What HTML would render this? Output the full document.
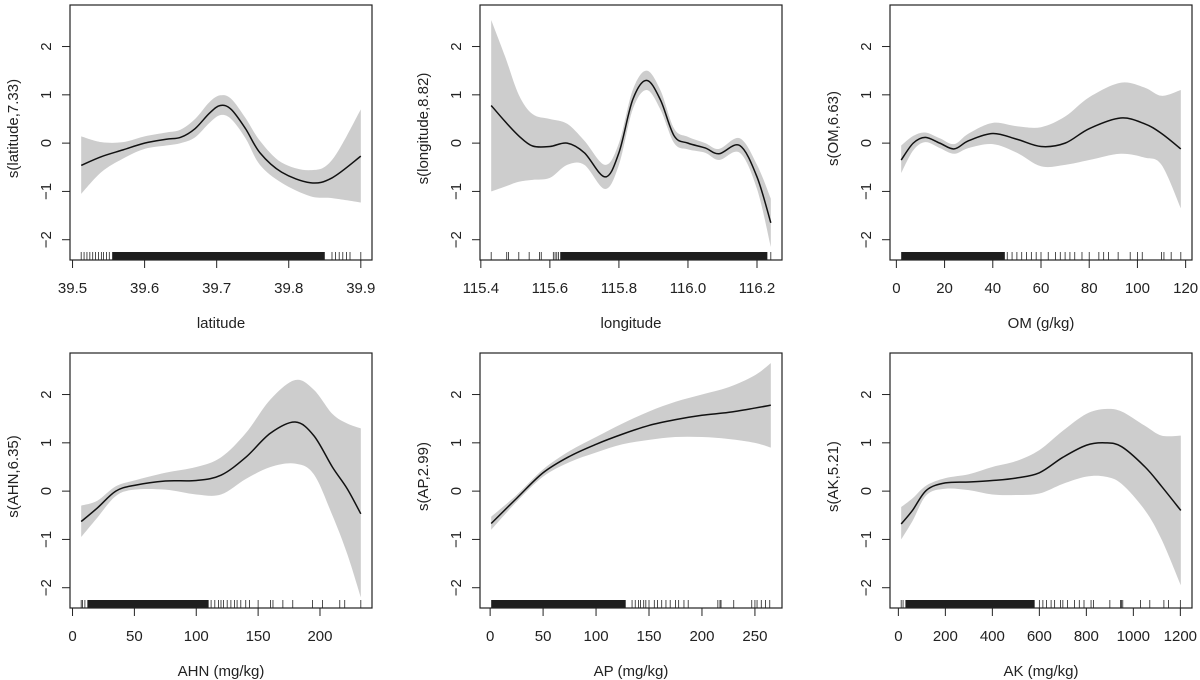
<!DOCTYPE html>
<html><head><meta charset="utf-8"><style>
html,body{margin:0;padding:0;background:#fff;width:1200px;height:680px;overflow:hidden}
svg text{font-family:"Liberation Sans",Arial,sans-serif;fill:#222}
</style></head><body>
<svg id="fig" width="1200" height="680" viewBox="0 0 1200 680" xmlns="http://www.w3.org/2000/svg"></svg>
<script>
// ---- data (top level) ----
const latX=[39.512,39.54,39.57,39.6,39.63,39.65,39.67,39.69,39.705,39.72,39.74,39.76,39.79,39.83,39.86,39.9];
const latFit=[-0.46,-0.28,-0.14,0.0,0.08,0.12,0.3,0.62,0.78,0.7,0.3,-0.2,-0.6,-0.82,-0.72,-0.27];
const latUp=[0.14,0.02,0.02,0.14,0.22,0.28,0.5,0.85,0.99,0.92,0.52,0.05,-0.4,-0.56,-0.35,0.70];
const latLo=[-1.05,-0.6,-0.32,-0.12,-0.05,0.0,0.12,0.42,0.58,0.5,0.1,-0.45,-0.82,-1.10,-1.14,-1.23];
const latTicks=[39.5,39.6,39.7,39.8,39.9];
const latTickLabels=["39.5","39.6","39.7","39.8","39.9"];
const latDense=[[39.555,39.85]];
const latRug=[39.512,39.516,39.52,39.524,39.528,39.532,39.536,39.54,39.543,39.547,39.551,39.86,39.865,39.87,39.875,39.88,39.885,39.9];

const lonX=[115.43,115.47,115.51,115.55,115.6,115.65,115.7,115.76,115.8,115.84,115.88,115.92,115.96,116.0,116.05,116.09,116.15,116.2,116.24];
const lonFit=[0.78,0.45,0.15,-0.06,-0.07,0.0,-0.2,-0.7,-0.2,0.9,1.3,0.9,0.15,0.0,-0.1,-0.22,-0.05,-0.7,-1.65];
const lonUp=[2.55,1.8,1.0,0.6,0.5,0.4,0.05,-0.45,0.0,1.1,1.5,1.1,0.3,0.13,0.0,-0.12,0.1,-0.45,-1.15];
const lonLo=[-1.0,-0.9,-0.8,-0.76,-0.72,-0.45,-0.45,-0.95,-0.45,0.7,1.1,0.7,0.0,-0.13,-0.2,-0.35,-0.2,-0.95,-2.15];
const lonTicks=[115.4,115.6,115.8,116.0,116.2];
const lonTickLabels=["115.4","115.6","115.8","116.0","116.2"];
const lonDense=[[115.63,116.23]];
const lonRug=[115.43,115.475,115.48,115.51,115.54,115.57,115.575,115.61,115.615,115.62,115.625,116.24];

const omX=[2,7,12,18,24,30,40,50,60,70,80,93,103,110,118];
const omFit=[-0.35,0.0,0.12,0.0,-0.12,0.05,0.2,0.08,-0.07,0.0,0.3,0.52,0.4,0.2,-0.12];
const omUp=[-0.05,0.15,0.22,0.1,-0.02,0.2,0.42,0.35,0.33,0.55,0.95,1.25,1.15,0.98,1.1];
const omLo=[-0.62,-0.15,0.02,-0.1,-0.22,-0.1,-0.02,-0.2,-0.48,-0.45,-0.35,-0.22,-0.3,-0.45,-1.35];
const omTicks=[0,20,40,60,80,100,120];
const omTickLabels=["0","20","40","60","80","100","120"];
const omDense=[[2,45]];
const omRug=[46,48,50,52,54,56,58,60,63,66,68,70,72,74,77,80,84,86,88,92,97,100,102,110,111,114,118];

const ahnX=[7,20,35,50,75,100,120,140,160,180,195,210,222,233];
const ahnFit=[-0.63,-0.35,0.0,0.12,0.21,0.22,0.33,0.7,1.2,1.43,1.15,0.5,0.05,-0.47];
const ahnUp=[-0.3,-0.2,0.1,0.22,0.38,0.5,0.7,1.2,1.9,2.3,2.1,1.6,1.4,1.3];
const ahnLo=[-0.95,-0.55,-0.1,0.03,0.03,-0.07,-0.07,0.25,0.5,0.57,0.35,-0.5,-1.3,-2.2];
const ahnTicks=[0,50,100,150,200];
const ahnTickLabels=["0","50","100","150","200"];
const ahnDense=[[12,110]];
const ahnRug=[7,8,10,112,115,118,120,122,125,128,131,133,136,140,143,150,160,162,170,178,194,202,216,220,233];

const apX=[1,25,50,75,100,125,150,175,200,225,250,265];
const apFit=[-0.67,-0.15,0.38,0.72,0.97,1.18,1.36,1.48,1.57,1.63,1.72,1.78];
const apUp=[-0.53,-0.08,0.45,0.83,1.12,1.4,1.65,1.85,2.0,2.15,2.4,2.65];
const apLo=[-0.8,-0.22,0.3,0.6,0.8,0.97,1.06,1.12,1.12,1.08,1.0,0.9];
const apTicks=[0,50,100,150,200,250];
const apTickLabels=["0","50","100","150","200","250"];
const apDense=[[1,128]];
const apRug=[134,137,140,142,145,147,150,155,158,162,166,170,175,178,183,187,215,217,218,230,247,250,252,256,260,264];

const akX=[12,60,120,200,300,400,500,600,700,800,880,950,1050,1120,1202];
const akFit=[-0.68,-0.4,0.02,0.17,0.19,0.22,0.27,0.38,0.7,0.95,1.0,0.92,0.5,0.1,-0.4];
const akUp=[-0.33,-0.15,0.12,0.27,0.35,0.5,0.62,0.85,1.25,1.6,1.7,1.65,1.35,1.15,1.15];
const akLo=[-1.0,-0.62,-0.08,0.05,0.02,-0.07,-0.08,-0.05,0.15,0.3,0.3,0.15,-0.4,-1.0,-1.95];
const akTicks=[0,200,400,600,800,1000,1200];
const akTickLabels=["0","200","400","600","800","1000","1200"];
const akDense=[[30,580]];
const akRug=[12,20,600,615,630,650,665,690,700,720,750,770,790,820,830,900,945,950,955,1030,1070,1130,1150,1200];

const yTicks=[-2,-1,0,1,2];
const yTickLabels=["\u22122","\u22121","0","1","2"];

const panels=[
 {key:"latitude",x:latX,fit:latFit,up:latUp,lo:latLo,ticks:latTicks,tl:latTickLabels,dense:latDense,rug:latRug,xl:"latitude",yl:"s(latitude,7.33)",L:70,T:5},
 {key:"longitude",x:lonX,fit:lonFit,up:lonUp,lo:lonLo,ticks:lonTicks,tl:lonTickLabels,dense:lonDense,rug:lonRug,xl:"longitude",yl:"s(longitude,8.82)",L:480,T:5},
 {key:"om",x:omX,fit:omFit,up:omUp,lo:omLo,ticks:omTicks,tl:omTickLabels,dense:omDense,rug:omRug,xl:"OM (g/kg)",yl:"s(OM,6.63)",L:890,T:5},
 {key:"ahn",x:ahnX,fit:ahnFit,up:ahnUp,lo:ahnLo,ticks:ahnTicks,tl:ahnTickLabels,dense:ahnDense,rug:ahnRug,xl:"AHN (mg/kg)",yl:"s(AHN,6.35)",L:70,T:353},
 {key:"ap",x:apX,fit:apFit,up:apUp,lo:apLo,ticks:apTicks,tl:apTickLabels,dense:apDense,rug:apRug,xl:"AP (mg/kg)",yl:"s(AP,2.99)",L:480,T:353},
 {key:"ak",x:akX,fit:akFit,up:akUp,lo:akLo,ticks:akTicks,tl:akTickLabels,dense:akDense,rug:akRug,xl:"AK (mg/kg)",yl:"s(AK,5.21)",L:890,T:353}
];

const NS="http://www.w3.org/2000/svg";
const svg=document.getElementById('fig');
function mk(tag,attrs,parent){const e=document.createElementNS(NS,tag);for(const k in attrs)e.setAttribute(k,attrs[k]);(parent||svg).appendChild(e);return e;}
function smooth(pts){
  let d="M"+pts[0][0].toFixed(2)+","+pts[0][1].toFixed(2);
  for(let i=0;i<pts.length-1;i++){
    const p0=pts[i-1]||pts[i],p1=pts[i],p2=pts[i+1],p3=pts[i+2]||pts[i+1];
    const c1=[p1[0]+(p2[0]-p0[0])/6,p1[1]+(p2[1]-p0[1])/6];
    const c2=[p2[0]-(p3[0]-p1[0])/6,p2[1]-(p3[1]-p1[1])/6];
    d+=" C"+c1[0].toFixed(2)+","+c1[1].toFixed(2)+" "+c2[0].toFixed(2)+","+c2[1].toFixed(2)+" "+p2[0].toFixed(2)+","+p2[1].toFixed(2);
  }
  return d;
}
const W=302,H=255,YMIN=-2.42,YMAX=2.86;
panels.forEach(p=>{
  const g=mk('g',{});
  
  
  const xmin=p.x[0],xmax=p.x[p.x.length-1],pad=(xmax-xmin)*0.04;
  const d0=xmin-pad,d1=xmax+pad;
  const sx=v=>p.L+(v-d0)/(d1-d0)*W;
  const sy=v=>p.T+(YMAX-v)/(YMAX-YMIN)*H;
  const B=p.T+H;
  const upPts=p.x.map((v,i)=>[sx(v),sy(p.up[i])]);
  const loPts=p.x.map((v,i)=>[sx(v),sy(p.lo[i])]).reverse();
  const bandD=smooth(upPts)+" L"+smooth(loPts).slice(1)+" Z";
  const band=mk('path',{d:bandD,fill:'#cdcdcd',stroke:'none'},g);
  
  
  const line=mk('path',{d:smooth(p.x.map((v,i)=>[sx(v),sy(p.fit[i])])),fill:'none',stroke:'#111','stroke-width':1.5},g);
  
  
  p.dense.forEach(r=>{
    const rr=mk('rect',{x:sx(r[0]),y:B-8,width:sx(r[1])-sx(r[0]),height:8,fill:'#1e1e1e'},g);
    
    
  });
  p.rug.forEach(v=>{
    const t=mk('line',{x1:sx(v),x2:sx(v),y1:B-8,y2:B,stroke:'#222','stroke-width':0.8},g);
    
    
  });
  const box=mk('rect',{x:p.L,y:p.T,width:W,height:H,fill:'none',stroke:'#222','stroke-width':1.2},g);
  
  
  p.ticks.forEach((v,i)=>{
    mk('line',{x1:sx(v),x2:sx(v),y1:B,y2:B+8,stroke:'#222','stroke-width':1},g);
    const t=mk('text',{x:sx(v),y:B+33,'text-anchor':'middle','font-size':15},g);
    t.textContent=p.tl[i];
    
    
  });
  const xl=mk('text',{x:p.L+W/2,y:B+68,'text-anchor':'middle','font-size':15},g);
  xl.textContent=p.xl;
  
  
  yTicks.forEach((v,i)=>{
    mk('line',{x1:p.L-8,x2:p.L,y1:sy(v),y2:sy(v),stroke:'#222','stroke-width':1},g);
    const t=mk('text',{x:p.L-19,y:sy(v),'text-anchor':'middle','font-size':15,transform:'rotate(-90 '+(p.L-19)+' '+sy(v)+')'},g);
    t.textContent=yTickLabels[i];
    
    
  });
  const cy=p.T+H/2-4, cx=p.L-52;
  const yl=mk('text',{x:cx,y:cy,'text-anchor':'middle','font-size':15,transform:'rotate(-90 '+cx+' '+cy+')'},g);
  yl.textContent=p.yl;
  
  
});
</script>
</body></html>
